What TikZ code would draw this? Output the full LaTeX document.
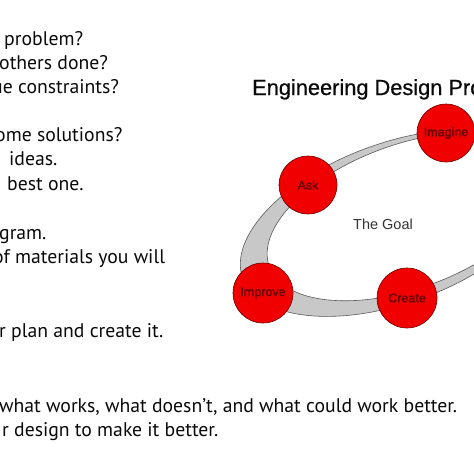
\documentclass[tikz,border=0pt]{standalone}
\usepackage{fontspec}
\setmainfont{PT Sans}
\newfontfamily\arialfont{Liberation Sans}
\newfontfamily\arialheavy[FakeBold=0.6]{Liberation Sans}
\newfontfamily\arialbolder[FakeBold=1.4]{Liberation Sans}
\definecolor{bandgray}{RGB}{200,200,200}
\definecolor{bandedge}{RGB}{90,90,90}
\definecolor{stagered}{RGB}{240,0,0}
\definecolor{stageedge}{RGB}{110,0,0}
\definecolor{labelred}{RGB}{100,0,0}
\definecolor{txt}{RGB}{10,10,10}
\begin{document}
\begin{tikzpicture}[x=1pt,y=-1pt,
  line/.style={anchor=base west,inner sep=0pt,text=txt,font=\fontsize{19.7}{22}\selectfont},
  stage/.style={circle,draw=stageedge,line width=0.6pt,fill=stagered,inner sep=0pt,minimum size=58pt,text=labelred,font=\arialbolder\fontsize{12.5}{14}\selectfont},
  band/.style={draw=bandedge,line width=0.6pt,fill=bandgray,even odd rule}]
\useasboundingbox (0,0) rectangle (474,474);
\clip (0,0) rectangle (474,474);
\fill[white] (0,0) rectangle (474,474);
% left text
\node[line] (l1) at (4,45) {problem?};
\node[line] (l2) at (-1,69) {others done?};
\node[line] (l3) at (-8,93) {ue constraints?};
\node[line] (l4) at (-5,141) {ome solutions?};
\node[line] (l5) at (9,165) {ideas.};
\node[line] (l6) at (7,190) {best one.};
\node[line] (l7) at (-1,239) {gram.};
\node[line] (l8) at (-7,263) {of materials you will};
\node[line] (l9) at (-1,337) {r plan and create it.};
\node[line] (l10) at (-1,412) {what works, what doesn’t, and what could work better.};
\node[line] (l11) at (2,436) {r design to make it better.};
% title
\node[anchor=base west,inner sep=0pt,text=txt,font=\arialheavy\fontsize{21.8}{24}\selectfont] (title) at (252,95) {Engineering Design Pro};
% band
\begin{scope}[shift={(395,223)},rotate=20]
\path[band] (0,0) ellipse [x radius=162, y radius=80] (13,-2) ellipse [x radius=146, y radius=72];
\end{scope}
% stages
\node[stage] (ask) at (308,185) {Ask};
\node[stage] (imagine) at (446,133) {Imagine};
\node[stage,minimum size=60pt] (improve) at (263,293) {Improve};
\node[stage,minimum size=60pt] (create) at (407,298) {Create};
\node[text=black!80,font=\arialfont\fontsize{14.5}{16}\selectfont,inner sep=0pt] (goal) at (383,224) {The Goal};
\end{tikzpicture}
\end{document}
